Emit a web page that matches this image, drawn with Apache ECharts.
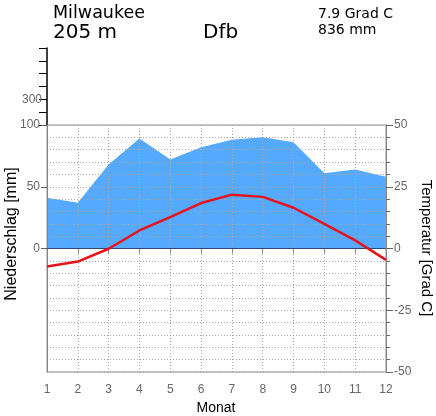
<!DOCTYPE html>
<html><head><meta charset="utf-8">
<script src="https://cdn.jsdelivr.net/npm/echarts@6/dist/echarts.min.js"></script>
<style>html,body{margin:0;padding:0;background:#fff}#c{width:436px;height:416px}</style>
</head><body><div id="c"></div>
<script>
const months = [1,2,3,4,5,6,7,8,9,10,11,12];
const precipitation = [41, 37, 68, 89, 72, 82, 88, 90, 86, 61, 64, 58];
const temperature = [-7.3, -5.3, -0.1, 7.3, 12.7, 18.4, 21.8, 20.9, 16.5, 10.0, 3.3, -4.6];
const station = "Milwaukee";
const elevation = "205 m";
const climate = "Dfb";
const meanTemp = "7.9 Grad C";
const totalPrecip = "836 mm";

const chart = echarts.init(document.getElementById('c'), null, {renderer:'canvas'});
const lab = {color:'#666', fontSize:12, fontFamily:'Liberation Sans'};
const dots = {type:[1,2], color:'#aaa', width:1};
chart.setOption({
  animation:false,
  backgroundColor:'#fff',
  grid:[
    {left:47, right:50, top:125, bottom:44, show:true, borderColor:'#888', borderWidth:1},
    {left:47, right:50, top:48, height:77, show:false}
  ],
  xAxis:[
    {type:'value', gridIndex:0, min:1, max:12, interval:1, z:3,
     axisLine:{lineStyle:{color:'#888'}}, axisTick:{length:5, lineStyle:{color:'#888'}},
     axisLabel:Object.assign({margin:12}, lab),
     splitLine:{show:true, lineStyle:dots}},
    {type:'value', gridIndex:1, min:1, max:12, show:false}
  ],
  yAxis:[
    {type:'value', gridIndex:0, position:'left', min:-100, max:100, interval:50, z:3,
     axisLine:{show:true, lineStyle:{color:'#888'}},
     axisTick:{show:true, length:6, customValues:[0,50,100], lineStyle:{color:'#666'}},
     axisLabel:Object.assign({margin:7, customValues:[0,50,100], formatter:v=> v>=0? String(v):''}, lab),
     splitLine:{show:false}},
    {type:'value', gridIndex:0, position:'right', min:-50, max:50, interval:25, z:3,
     axisLine:{show:true, lineStyle:{color:'#888'}},
     axisTick:{show:true, length:7, lineStyle:{color:'#666'}},
     minorTick:{show:true, splitNumber:5, length:4, lineStyle:{color:'#666'}},
     axisLabel:Object.assign({margin:8}, lab),
     splitLine:{show:true, lineStyle:dots},
     minorSplitLine:{show:true, lineStyle:dots}},
    {type:'value', gridIndex:1, position:'left', min:100, max:700, interval:100,
     axisLine:{show:true, lineStyle:{color:'#000', width:1.5}},
     axisTick:{show:true, length:8, lineStyle:{color:'#000'}},
     axisLabel:Object.assign({margin:5, formatter:v=> v===300?'300':''}, lab),
     splitLine:{show:false}}
  ],
  series:[
    {type:'line', name:'Niederschlag', xAxisIndex:0, yAxisIndex:0, z:2,
     data: months.map((m,i)=>[m, precipitation[i]]),
     symbol:'none', lineStyle:{width:0}, areaStyle:{color:'#55aaff', opacity:1},
     markLine:{silent:true, symbol:'none', label:{show:false},
       lineStyle:{type:'solid', color:'#2b4a78', width:1}, data:[{yAxis:0}]}},
    {type:'line', name:'Temperatur', xAxisIndex:0, yAxisIndex:1, z:5,
     data: months.map((m,i)=>[m, temperature[i]]),
     symbol:'none', lineStyle:{color:'#e8121a', width:2.5}}
  ],
  graphic:[
    {type:'text', x:53, y:13, style:{text:station, font:'17.5px "DejaVu Sans"', fill:'#000', verticalAlign:'middle'}},
    {type:'text', x:53, y:33, style:{text:elevation, font:'20px "DejaVu Sans"', fill:'#000', verticalAlign:'middle'}},
    {type:'text', x:203, y:33, style:{text:climate, font:'20px "DejaVu Sans"', fill:'#000', verticalAlign:'middle'}},
    {type:'text', x:318, y:14, style:{text:meanTemp, font:'14px "DejaVu Sans"', fill:'#000', verticalAlign:'middle'}},
    {type:'text', x:318, y:30.5, style:{text:totalPrecip, font:'14px "DejaVu Sans"', fill:'#000', verticalAlign:'middle'}},
    {type:'text', x:12, y:234, rotation:Math.PI/2, style:{text:'Niederschlag [mm]', font:'16px "Liberation Sans"', fill:'#000', align:'center', verticalAlign:'middle'}},
    {type:'text', x:426, y:248, rotation:-Math.PI/2, style:{text:'Temperatur [Grad C]', font:'15px "Liberation Sans"', fill:'#000', align:'center', verticalAlign:'middle'}},
    {type:'text', x:216, y:408, style:{text:'Monat', font:'14px "Liberation Sans"', fill:'#000', align:'center', verticalAlign:'middle'}}
  ]
});
</script></body></html>
